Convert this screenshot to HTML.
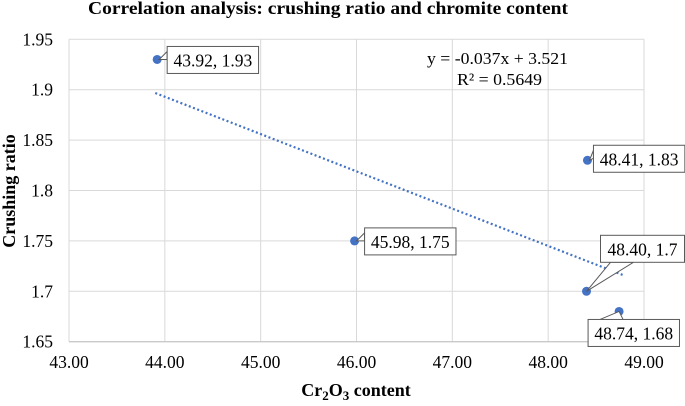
<!DOCTYPE html>
<html><head><meta charset="utf-8"><style>
body{margin:0;background:#fff}
svg text, svg tspan{font-family:"Liberation Serif","Times New Roman",serif !important}
</style></head><body>
<svg id="c" width="685" height="401" xmlns="http://www.w3.org/2000/svg" font-family="Liberation Serif, serif">
<text x="328" y="14" text-anchor="middle" font-size="18" font-weight="bold" textLength="480" lengthAdjust="spacingAndGlyphs">Correlation analysis: crushing ratio and chromite content</text>
<g id="grid"></g><g id="marks"></g>
<text x="427" y="64" font-size="17" textLength="141" lengthAdjust="spacingAndGlyphs">y = -0.037x + 3.521</text>
<text x="457" y="85" font-size="17" textLength="85" lengthAdjust="spacingAndGlyphs">R² = 0.5649</text>
<text x="356" y="396" text-anchor="middle" font-size="18" font-weight="bold">Cr<tspan font-size="13" dy="4">2</tspan><tspan dy="-4">O</tspan><tspan font-size="13" dy="4">3</tspan><tspan dy="-4"> content</tspan></text>
<text transform="translate(15,191) rotate(-90)" text-anchor="middle" font-size="18" font-weight="bold">Crushing ratio</text>
</svg>
<script>
const xVals=[43.92,48.41,45.98,48.40,48.74];
const yVals=[1.93,1.83,1.75,1.70,1.68];
const pointLabels=["43.92, 1.93","48.41, 1.83","45.98, 1.75","48.40, 1.7","48.74, 1.68"];
const xTicks=[43,44,45,46,47,48,49];
const yTicks=[1.65,1.7,1.75,1.8,1.85,1.9,1.95];
const slope=-0.037, intercept=3.521, trendFrom=43.9, trendTo=48.8;
const labelOffsets=[[10,-13],[6,-15],[10,-13],[14,-56],[-31,8]];
const NS="http://www.w3.org/2000/svg";
const X=v=>69+(v-43)*(644-69)/6;
const Y=v=>341.7-(v-1.65)*(341.7-39.3)/0.3;
function mk(t,a,p){const e=document.createElementNS(NS,t);for(const k in a)e.setAttribute(k,a[k]);if(t==='text')e.setAttribute('font-family','Liberation Serif, serif');p.appendChild(e);return e;}
const g=document.getElementById('grid'),m=document.getElementById('marks');
xTicks.forEach(t=>{
 const l=mk('line',{x1:X(t),x2:X(t),y1:Y(1.95),y2:Y(1.65),stroke:'#d9d9d9','stroke-width':1},g);
 
 
 const tx=mk('text',{x:X(t),y:368,'text-anchor':'middle','font-size':17.5},g);tx.textContent=t.toFixed(2);
 
 
});
yTicks.forEach(t=>{
 const l=mk('line',{x1:X(43),x2:X(49),y1:Y(t),y2:Y(t),stroke:'#d9d9d9','stroke-width':1},g);
 
 
 const tx=mk('text',{x:53,y:Y(t)+6,'text-anchor':'end','font-size':17.5},g);tx.textContent=String(t);
 
 
});
const ax=mk('line',{x1:X(43),x2:X(49),y1:Y(1.65),y2:Y(1.65),stroke:'#bfbfbf'},g);


const tl=mk('line',{x1:X(trendFrom),y1:Y(slope*trendFrom+intercept),x2:X(trendTo),y2:Y(slope*trendTo+intercept),stroke:'#4472c4','stroke-width':2.2,'stroke-dasharray':'2 2.5'},m);


xVals.forEach((xv,i)=>{
 const px=X(xv),py=Y(yVals[i]);
 const c=mk('circle',{cx:px,cy:py,r:4.5,fill:'#4472c4'},m);
 
 
 const w=pointLabels[i].length*7.4+10,h=27;
 const bx=px+labelOffsets[i][0],by=py+labelOffsets[i][1];
 let pts;
 if(labelOffsets[i][1]<-20) pts=`${bx+10},${by+h} ${px},${py} ${bx+33},${by+h}`;
 else if(labelOffsets[i][1]>0) pts=`${bx+12},${by} ${px},${py} ${bx+35},${by}`;
 else pts=`${bx},${by+5} ${px+2},${py} ${bx},${by+13}`;
 const ln=mk('polygon',{points:pts,fill:'#fff',stroke:'#595959','stroke-width':1},m);
 
 
 const r=mk('rect',{x:bx,y:by,width:w,height:h,fill:'#fff',stroke:'#595959','stroke-width':1},m);
 
 
 const t=mk('text',{x:bx+w/2,y:by+20,'text-anchor':'middle','font-size':17.5},m);t.textContent=pointLabels[i];
 
 
});
</script>
</body></html>
